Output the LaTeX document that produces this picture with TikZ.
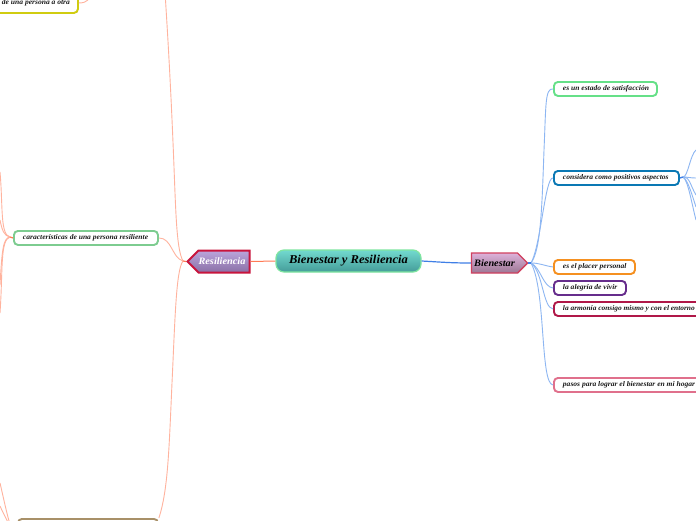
\documentclass[tikz,border=0pt]{standalone}
\usepackage{fontspec}
\setmainfont[FakeStretch=1.05]{Liberation Serif}
\usetikzlibrary{shapes.symbols}
\definecolor{bluel}{HTML}{8DB6F2}
\definecolor{blued}{HTML}{3F7FE6}
\definecolor{redl}{HTML}{FFB39E}
\definecolor{redd}{HTML}{FF7A55}
\definecolor{roott}{HTML}{72DACF}
\definecolor{rootb}{HTML}{459C99}
\definecolor{rootl}{HTML}{7FE5A0}
\definecolor{rest}{HTML}{BBA5DC}
\definecolor{resb}{HTML}{8A70A6}
\definecolor{resl}{HTML}{C8143C}
\definecolor{bient}{HTML}{DDB2DA}
\definecolor{bienb}{HTML}{9C7794}
\definecolor{bienl}{HTML}{D0405F}
\definecolor{lfgreen}{HTML}{66E088}
\definecolor{lfblue}{HTML}{0A78B4}
\definecolor{lforange}{HTML}{F59020}
\definecolor{lfpurple}{HTML}{662D8C}
\definecolor{lfcrimson}{HTML}{B01848}
\definecolor{lfpink}{HTML}{E0708C}
\definecolor{lfmint}{HTML}{7DCC90}
\definecolor{lfbrown}{HTML}{A89068}
\definecolor{lfyellow}{HTML}{D0CC10}
\tikzset{
  x=1pt,y=-1pt,
  leaf/.style={draw=#1,line width=1.9pt,rounded corners=4pt,fill=white,anchor=north west,inner sep=0pt,
    font=\fontsize{7.2}{9}\selectfont\bfseries\itshape,text=black!90},
  bl/.style={draw=bluel,line width=0.9pt},
  rl/.style={draw=redl,line width=0.9pt},
  sig/.style={shape=signal,signal from=nowhere,inner sep=0pt,font=\fontsize{9.8}{11}\selectfont\bfseries\itshape}
}
\newcommand{\leafbox}[6]{%
  \node[leaf=#2,minimum width=#5pt,minimum height=14pt] (#1) at (#3,#4) {\makebox[#5pt][l]{\hspace*{9pt}#6}};}
\begin{document}
\begin{tikzpicture}
\useasboundingbox (0,0) rectangle (696,520);
\clip (0,0) rectangle (696,520);
\fill[white] (0,0) rectangle (696,520);

\node[draw=rootl,line width=1.2pt,rounded corners=8pt,minimum width=145pt,minimum height=22pt,inner sep=0pt,
  top color=roott,bottom color=rootb,font=\fontsize{12}{13}\selectfont\bfseries\itshape,text=black] (root) at (348.5,261) {\raisebox{-2pt}{Bienestar y Resiliencia}};
\node[sig,signal to=west,draw=resl,line width=2pt,minimum width=62pt,minimum height=22pt,signal pointer angle=90,
  top color=rest,bottom color=resb,text=white] (res) at (224,261.5) {Resiliencia\hspace*{4pt}};
\node[sig,signal to=east,draw=bienl,line width=1.4pt,minimum width=56pt,minimum height=20pt,signal pointer angle=90,
  top color=bient,bottom color=bienb,text=black] (bien) at (494.5,263) {\hspace*{1pt}Bienestar\hspace*{1pt}};

\leafbox{satis}{lfgreen}{553}{81}{103}{es un estado de satisfacción}
\leafbox{cons}{lfblue}{553}{170}{125}{considera como positivos aspectos}
\leafbox{placer}{lforange}{553}{259}{81}{es el placer personal}
\leafbox{alegria}{lfpurple}{553}{280}{72}{la alegría de vivir}
\leafbox{armonia}{lfcrimson}{553}{301}{170}{\fontsize{7.05}{9}\selectfont la armonía consigo mismo y con el entorno}
\leafbox{pasos}{lfpink}{553}{377}{170}{pasos para lograr el bienestar en mi hogar}
\leafbox{carac}{lfmint}{13}{230}{144}{características de una persona resiliente}
\leafbox{brown}{lfbrown}{17}{518}{140}{}
\node[leaf=lfyellow,minimum width=120pt,minimum height=20pt] (yellow) at (-43,-8) {\makebox[120pt][r]{de una persona a otra\hspace*{8pt}}};

\coordinate (bhub) at (531,263);
\coordinate (rhub) at (183,261);
\coordinate (chub) at (683,177);
\coordinate (khub) at (10,237);
\coordinate (brhub) at (12,530);
\coordinate (c1) at (696,150);
\coordinate (c2) at (696,178);
\coordinate (c3) at (696,195);
\coordinate (c4) at (696,207);
\coordinate (c5) at (696,220);
\coordinate (r1) at (165.5,0);
\coordinate (k1) at (0,172);
\coordinate (k2) at (0,220);
\coordinate (k3) at (0,285);
\coordinate (k4) at (0,313);
\coordinate (b1) at (0,483);
\coordinate (b2) at (0,506);
\coordinate (y1) at (88,0);

\draw[draw=blued,line width=1.2pt] (root.east) .. controls (440,262) and (450,263) .. (bien.west);
\draw[draw=redd,line width=1pt] (res.east) -- (root.west);

\draw[bl] (bhub) .. controls (541,250) and (542,205) .. (544,150) .. controls (546,105) and (545,88) .. (satis.west);
\draw[bl] (bhub) .. controls (541,245) and (545,177) .. (cons.west);
\draw[bl] (bhub) .. controls (540,263) and (545,266) .. (placer.west);
\draw[bl] (bhub) .. controls (541,268) and (543,287) .. (alegria.west);
\draw[bl] (bhub) .. controls (543,272) and (543,308) .. (armonia.west);
\draw[bl] (bhub) .. controls (546,290) and (540,384) .. (pasos.west);
\draw[draw=blued,line width=1.4pt] (bien.east) -- (bhub);

\draw[bl] (chub) .. controls (688,177) and (690,155) .. (c1);
\draw[bl] (chub) .. controls (688,177) and (690,178) .. (c2);
\draw[bl] (chub) .. controls (690,177) and (690,185) .. (c3);
\draw[bl] (chub) .. controls (688,180) and (692,195) .. (c4);
\draw[bl] (chub) .. controls (688,180) and (692,205) .. (c5);
\draw[draw=blued,line width=1.4pt] (cons.east) -- (chub);

\draw[rl] (rhub) .. controls (177,250) and (176,220) .. (174,167) .. controls (171,90) and (168,40) .. (r1);
\draw[rl] (rhub) .. controls (172,258) and (172,238) .. (carac.east);
\draw[rl] (rhub) .. controls (176,270) and (175,320) .. (172,383) .. controls (169,450) and (168,490) .. (brown.north east);
\draw[draw=redd,line width=1.2pt] (res.west) -- (rhub);

\draw[rl] (khub) .. controls (0,235) and (3,205) .. (k1);
\draw[rl] (khub) .. controls (4,236) and (2,230) .. (k2);
\draw[rl] (khub) .. controls (3,238) and (2,250) .. (k3);
\draw[rl] (khub) .. controls (0,240) and (3,270) .. (k4);
\draw[draw=redd,line width=1.2pt] (carac.west) -- (khub);

\draw[rl] (brhub) .. controls (8,520) and (4,500) .. (b1);
\draw[rl] (brhub) .. controls (8,522) and (4,515) .. (b2);
\draw[draw=redd,line width=1pt] (brown.west) -- (brhub);
\draw[rl] (yellow.east) .. controls (83,3) and (86,2) .. (y1);
\end{tikzpicture}
\end{document}
